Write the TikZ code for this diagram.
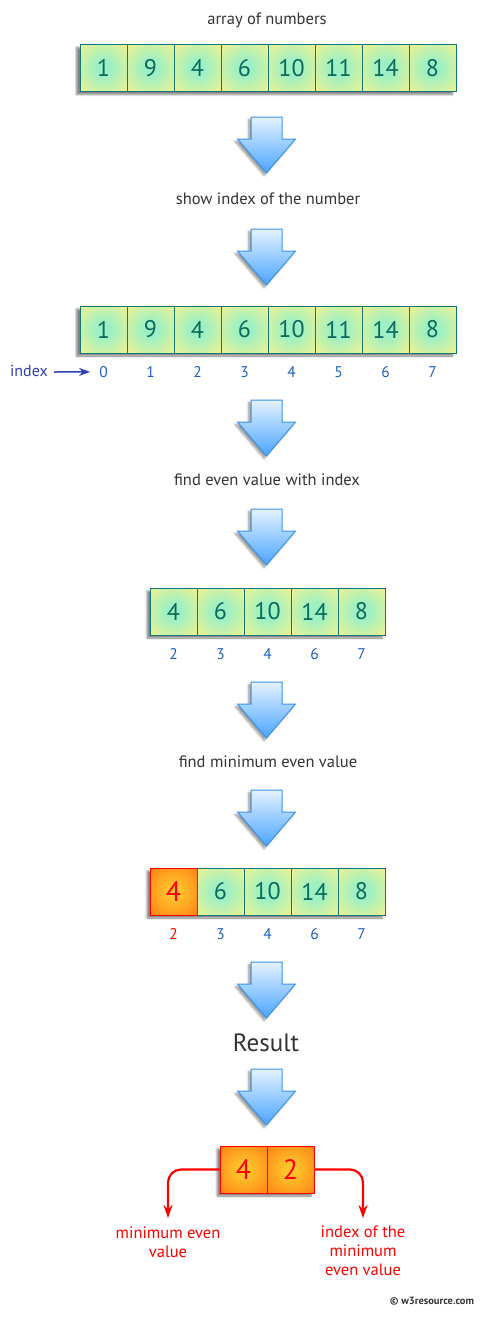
\documentclass[tikz,border=0pt]{standalone}
\usepackage{fontspec}
\setmainfont{PT Sans}
\usetikzlibrary{shadows.blur,arrows.meta}
\definecolor{cellin}{HTML}{9CF0C4}
\definecolor{cellout}{HTML}{F0F290}
\definecolor{cellline}{HTML}{127676}
\definecolor{cellnum}{HTML}{0B6A5C}
\definecolor{hotin}{HTML}{FFC42A}
\definecolor{hotout}{HTML}{FF7C14}
\definecolor{arrtop}{HTML}{E4F2FF}
\definecolor{arrbot}{HTML}{4AA4FF}
\definecolor{arrline}{HTML}{3894F2}
\definecolor{idxblue}{HTML}{1F5FC0}
\definecolor{idxword}{HTML}{2E3FB0}
\definecolor{txt}{HTML}{333333}
\pgfdeclareradialshading{cellshade}{\pgfpoint{0bp}{0bp}}{color(0bp)=(cellin); color(8bp)=(cellin); color(36bp)=(cellout); color(50bp)=(cellout)}
\pgfdeclareradialshading{hotshade}{\pgfpoint{0bp}{0bp}}{color(0bp)=(hotin); color(6bp)=(hotin); color(38bp)=(hotout); color(50bp)=(hotout)}
\tikzset{
  cell/.style={draw=cellline, line width=0.8pt, minimum width=47pt, minimum height=47pt,
    inner sep=0pt, shading=cellshade, text=cellnum, font=\fontsize{24}{24}\selectfont},
  hotcell/.style={cell, draw=red, shading=hotshade, text=red, font=\fontsize{28}{28}\selectfont},
  rowbox/.style={minimum height=47pt, inner sep=0pt, fill=white,
    blur shadow={shadow xshift=-3pt, shadow yshift=-3pt, shadow blur steps=6, shadow opacity=50}},
  idx/.style={text=idxblue, font=\fontsize{15.5}{15.5}\selectfont, inner sep=0pt},
  hotidx/.style={idx, text=red},
  caption/.style={text=txt, font=\fontsize{16.5}{16.5}\selectfont, inner sep=0pt},
  redtxt/.style={text=red, font=\fontsize{16.5}{18.8}\selectfont, align=center, inner sep=0pt},
  resline/.style={draw=red, line width=2.2pt, rounded corners=13pt,
    -{Stealth[length=13pt,width=9pt]}},
  bigarrow/.pic={
    \path[draw=arrline, line width=1pt, top color=arrtop, bottom color=arrbot,
      blur shadow={shadow xshift=-2.5pt, shadow yshift=-2.5pt, shadow blur steps=6, shadow opacity=40}]
      (-15.5,0) -- (15.5,0) -- (15.5,22) -- (29,22) -- (0,56) -- (-29,22) -- (-15.5,22) -- cycle;
  }
}
\begin{document}
\begin{tikzpicture}[x=1pt,y=-1pt]
\useasboundingbox (0,0) rectangle (491,1318);

% captions
\node[caption] (t1) at (267,20) {array of numbers};
\node[caption] (t2) at (268,199) {show index of the number};
\node[caption] (t3) at (267,480) {find even value with index};
\node[caption] (t4) at (268,762) {find minimum even value};
\node[text=txt, font=\fontsize{25}{25}\selectfont, inner sep=0pt] (t5) at (266,1043) {Result};

% big arrows
\pic (ba1) at (266.5,117) {bigarrow};
\pic (ba2) at (266.5,229) {bigarrow};
\pic (ba3) at (266.5,400) {bigarrow};
\pic (ba4) at (266.5,509) {bigarrow};
\pic (ba5) at (266.5,682) {bigarrow};
\pic (ba6) at (266.5,790) {bigarrow};
\pic (ba7) at (266.5,962) {bigarrow};
\pic (ba8) at (266.5,1069) {bigarrow};

% array 1
\node[rowbox, minimum width=376pt] (row1) at (267.5,68) {};
\foreach \v [count=\i from 0] in {1,9,4,6,10,11,14,8}
  \node[cell] (a1c\i) at (103.5+47*\i,68) {\v};

% array 2 with index
\node[rowbox, minimum width=376pt] (row2) at (267.5,329.5) {};
\foreach \v [count=\i from 0] in {1,9,4,6,10,11,14,8}{
  \node[cell] (a2c\i) at (103.5+47*\i,329.5) {\v};
  \node[idx] (a2i\i) at ([yshift=-18.5pt]a2c\i.south) {\i};
}
\node[text=idxword, font=\fontsize{16}{16}\selectfont, inner sep=0pt] (idxword) at (29,371) {index};
\coordinate (iw) at (54,372);
\draw[idxword, line width=1.5pt, -{Stealth[length=11pt,width=8pt]}] (iw) -- ([xshift=-9pt]a2i0.west);

% array 3
\node[rowbox, minimum width=235pt] (row3) at (267.5,611.5) {};
\foreach \v/\k [count=\i from 0] in {4/2,6/3,10/4,14/6,8/7}{
  \node[cell] (a3c\i) at (173.5+47*\i,611.5) {\v};
  \node[idx] (a3i\i) at ([yshift=-19pt]a3c\i.south) {\k};
}

% array 4
\node[rowbox, minimum width=235pt] (row4) at (267.5,891.5) {};
\node[hotcell] (a4c0) at (173.5,891.5) {4};
\node[hotidx] (a4i0) at ([yshift=-19pt]a4c0.south) {2};
\foreach \v/\k [count=\i from 1] in {6/3,10/4,14/6,8/7}{
  \node[cell] (a4c\i) at (173.5+47*\i,891.5) {\v};
  \node[idx] (a4i\i) at ([yshift=-19pt]a4c\i.south) {\k};
}

% result
\node[rowbox, minimum width=94pt] (row5) at (267,1169.5) {};
\node[hotcell] (r0) at (243.5,1169.5) {4};
\node[hotcell] (r1) at (290.5,1169.5) {2};
\coordinate (tipL) at (168,1218);
\coordinate (tipR) at (363,1218);
\draw[resline] (r0.west) -| (tipL);
\draw[resline] (r1.east) -| (tipR);
\node[redtxt, anchor=north] (lblL) at (168,1226.5) {minimum even\\value};
\node[redtxt, anchor=north] (lblR) at (363,1226) {index of the\\minimum\\even value};

% copyright
\node[text=txt, font=\bfseries\fontsize{10.5}{10.5}\selectfont, inner sep=0pt] (copy) at (432,1301) {© w3resource.com};
\end{tikzpicture}
\end{document}
